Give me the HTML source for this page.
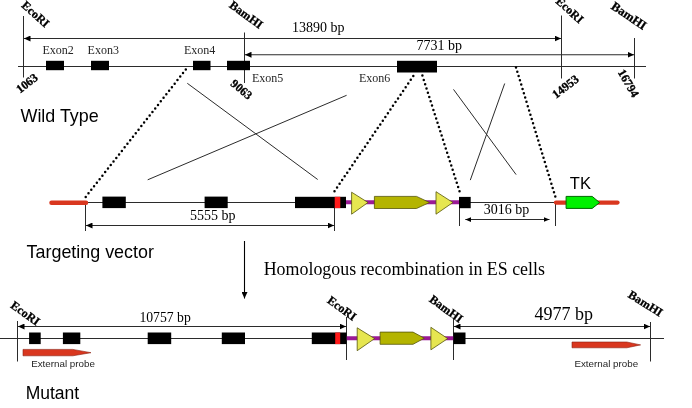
<!DOCTYPE html>
<html><head><meta charset="utf-8">
<style>
html,body{margin:0;padding:0;background:#fff;width:692px;height:408px;overflow:hidden}
svg{display:block;filter:blur(0.4px)}
.serif{font-family:"Liberation Serif",serif}
.sans{font-family:"Liberation Sans",sans-serif}
.lbl{font-family:"Liberation Serif",serif;font-weight:bold;fill:#000;stroke:#000;stroke-width:0.3px}
</style></head><body>
<svg width="692" height="408" viewBox="0 0 692 408">
<defs>
<marker id="ah" viewBox="0 0 10 10" refX="10" refY="5" markerWidth="6.5" markerHeight="6" markerUnits="userSpaceOnUse" preserveAspectRatio="none" orient="auto-start-reverse">
<path d="M0,0 L10,5 L0,10 z" fill="#000"/>
</marker>
<marker id="ahs" viewBox="0 0 10 10" refX="10" refY="5" markerWidth="6" markerHeight="5" markerUnits="userSpaceOnUse" preserveAspectRatio="none" orient="auto-start-reverse">
<path d="M0,0 L10,5 L0,10 z" fill="#000"/>
</marker>
</defs>
<rect width="692" height="408" fill="#fff"/>

<!-- ============ WILD TYPE ============ -->
<g stroke="#2b2b2b" stroke-width="1" fill="none">
<line x1="18" y1="66.5" x2="646" y2="66.5"/>
<line x1="23.5" y1="16" x2="23.5" y2="77.5"/>
<line x1="244.5" y1="32.5" x2="244.5" y2="83"/>
<line x1="561.5" y1="15.5" x2="561.5" y2="78.5"/>
<line x1="634.5" y1="38" x2="634.5" y2="78.5"/>
<line x1="24" y1="38.5" x2="561" y2="38.5" marker-start="url(#ah)" marker-end="url(#ah)"/>
<line x1="245" y1="54.75" x2="634" y2="54.75" marker-start="url(#ah)" marker-end="url(#ah)"/>
</g>
<g fill="#000">
<rect x="46" y="60.8" width="18" height="9.4"/>
<rect x="91" y="60.8" width="18" height="9.4"/>
<rect x="193" y="60.8" width="17.5" height="9.4"/>
<rect x="227" y="60.8" width="23" height="9.4"/>
<rect x="397" y="60.8" width="40" height="11.7"/>
</g>
<g class="serif" font-size="12" fill="#262626">
<text x="42.5" y="54">Exon2</text>
<text x="87.6" y="54">Exon3</text>
<text x="184" y="54">Exon4</text>
<text x="252" y="81.7">Exon5</text>
<text x="359" y="81.6">Exon6</text>
</g>
<g class="serif" font-size="14" fill="#000">
<text x="292" y="32">13890 bp</text>
<text x="416.4" y="49.5">7731 bp</text>
</g>
<g class="lbl" font-size="12">
<text transform="translate(20.8,6.3) rotate(42)">EcoRI</text>
<text transform="translate(228.5,6.8) rotate(36)">BamHI</text>
<text transform="translate(555,2.2) rotate(42)">EcoRI</text>
<text transform="translate(610.3,8.2) rotate(34)" font-size="12.5">BamHI</text>
<text transform="translate(19.9,93.8) rotate(-38)">1063</text>
<text transform="translate(229.8,84.8) rotate(40)">9063</text>
<text transform="translate(556,99) rotate(-38)">14953</text>
<text transform="translate(617.4,72.2) rotate(60)">16794</text>
</g>

<!-- crossing lines and dotted lines -->
<g stroke="#2b2b2b" stroke-width="1" fill="none">
<line x1="187.3" y1="83.3" x2="317.7" y2="179.5"/>
<line x1="147.7" y1="179.8" x2="346.6" y2="95.3"/>
<line x1="453.5" y1="89.4" x2="516.1" y2="174.6"/>
<line x1="504.7" y1="83.5" x2="470.3" y2="180.1"/>
</g>
<g stroke="#000" stroke-width="2.5" stroke-linecap="round" stroke-dasharray="0 4.5" fill="none">
<line x1="185.8" y1="69.5" x2="85.4" y2="197.3"/>
<line x1="413.3" y1="76.1" x2="334.2" y2="191.7"/>
<line x1="422.4" y1="75.6" x2="459.8" y2="192.2"/>
<line x1="516" y1="67.4" x2="555.4" y2="196.9"/>
</g>

<text x="20.5" y="121.7" class="sans" font-size="17.9" fill="#000">Wild Type</text>

<!-- ============ TARGETING VECTOR ============ -->
<g stroke="#2b2b2b" stroke-width="1" fill="none">
<line x1="87" y1="202.5" x2="296" y2="202.5"/>
<line x1="470" y1="202.5" x2="554" y2="202.5"/>
<line x1="85.5" y1="203" x2="85.5" y2="231"/>
<line x1="334.5" y1="208" x2="334.5" y2="231"/>
<line x1="459.5" y1="208" x2="459.5" y2="226"/>
<line x1="555.5" y1="203" x2="555.5" y2="226"/>
<line x1="86" y1="225.5" x2="334" y2="225.5" marker-start="url(#ah)" marker-end="url(#ah)"/>
<line x1="465.3" y1="219.5" x2="549.5" y2="219.5" marker-start="url(#ahs)" marker-end="url(#ahs)"/>
</g>
<line x1="51.5" y1="202.8" x2="86" y2="202.8" stroke="#d9371f" stroke-width="4.5" stroke-linecap="round"/>
<line x1="556" y1="202.6" x2="617.5" y2="202.6" stroke="#d9371f" stroke-width="4.3" stroke-linecap="round"/>
<line x1="346" y1="202.3" x2="459" y2="202.3" stroke="#9a1a96" stroke-width="4"/>
<g fill="#000">
<rect x="102.4" y="196.6" width="23.4" height="11.5"/>
<rect x="204.6" y="196.6" width="23.1" height="11.5"/>
<rect x="295" y="196.8" width="51" height="11.3"/>
<rect x="459" y="196.9" width="11.7" height="11.3"/>
</g>
<rect x="334.7" y="196.8" width="5.6" height="11.3" fill="#ff1a1a"/>
<path d="M351.6,192.2 L368,202.5 L351.6,214.2 Z" fill="#e6e650" stroke="#55550a" stroke-width="0.8"/>
<path d="M436,191.7 L452.9,202.5 L436,214.2 Z" fill="#e6e650" stroke="#55550a" stroke-width="0.8"/>
<path d="M374.4,196.4 L416.5,196.4 L429.5,202.5 L416.5,208.5 L374.4,208.5 Z" fill="#b4b400" stroke="#55550a" stroke-width="0.8"/>
<path d="M566.1,196.4 L592.2,196.4 L599.6,202.6 L592.2,208.4 L566.1,208.4 Z" fill="#00f000" stroke="#006600" stroke-width="1"/>
<g class="serif" font-size="14" fill="#000">
<text x="190" y="219.5">5555 bp</text>
<text x="483.8" y="214.2">3016 bp</text>
</g>
<text x="569.8" y="189.4" class="sans" font-size="16.5" fill="#000">TK</text>
<text x="26.6" y="257.6" class="sans" font-size="17.9" fill="#000">Targeting vector</text>

<!-- arrow down + homologous -->
<line x1="244.5" y1="241" x2="244.5" y2="298.5" stroke="#000" stroke-width="1.1" marker-end="url(#ah)"/>
<text x="263.7" y="275.2" class="serif" font-size="17.9" fill="#000">Homologous recombination in ES cells</text>

<!-- ============ MUTANT ============ -->
<g stroke="#2b2b2b" stroke-width="1" fill="none">
<line x1="0" y1="338.5" x2="312" y2="338.5"/>
<line x1="465" y1="338.5" x2="664" y2="338.5"/>
<line x1="17.5" y1="321" x2="17.5" y2="361.5"/>
<line x1="346.5" y1="317" x2="346.5" y2="360"/>
<line x1="453.5" y1="318.5" x2="453.5" y2="360"/>
<line x1="650.5" y1="322" x2="650.5" y2="361.5"/>
<line x1="18" y1="326.5" x2="346" y2="326.5" marker-start="url(#ah)" marker-end="url(#ah)"/>
<line x1="454" y1="326.5" x2="650" y2="326.5" marker-start="url(#ah)" marker-end="url(#ah)"/>
</g>
<line x1="346.5" y1="338.3" x2="453.4" y2="338.3" stroke="#9a1a96" stroke-width="4"/>
<g fill="#000">
<rect x="29.1" y="332.5" width="11.6" height="11.6"/>
<rect x="62.9" y="332.5" width="17.4" height="11.6"/>
<rect x="147.7" y="332.5" width="23.5" height="11.6"/>
<rect x="221.8" y="332.5" width="23.2" height="11.6"/>
<rect x="311.8" y="332.5" width="34.7" height="11.6"/>
<rect x="453.4" y="332.5" width="12.1" height="11.6"/>
</g>
<rect x="335.2" y="332.5" width="5" height="11.6" fill="#ff1a1a"/>
<path d="M357.2,327.8 L374.6,338.6 L357.2,350.7 Z" fill="#e6e650" stroke="#55550a" stroke-width="0.8"/>
<path d="M430.9,327.3 L447.7,338.6 L430.9,349.8 Z" fill="#e6e650" stroke="#55550a" stroke-width="0.8"/>
<path d="M380.1,332.1 L413,332.1 L424.3,338.2 L413,344.3 L380.1,344.3 Z" fill="#b4b400" stroke="#55550a" stroke-width="0.8"/>
<path d="M23,349.4 L72.8,349.4 L91,352.7 L72.8,355.8 L23,355.8 Z" fill="#d9371f" stroke="#8a2010" stroke-width="0.6"/>
<path d="M572,342 L626.8,342 L640.6,344.9 L626.8,347.8 L572,347.8 Z" fill="#d9371f" stroke="#8a2010" stroke-width="0.6"/>
<text x="139.4" y="321.7" class="serif" font-size="13.7" fill="#000">10757 bp</text>
<text x="534.6" y="319.5" class="serif" font-size="18" fill="#000">4977 bp</text>
<g class="sans" font-size="9.8" fill="#262626">
<text x="31.2" y="366.6">External probe</text>
<text x="574.4" y="367">External probe</text>
</g>
<g class="lbl" font-size="12">
<text transform="translate(9.8,306.9) rotate(36)">EcoRI</text>
<text transform="translate(326.4,302) rotate(36)">EcoRI</text>
<text transform="translate(428.5,300.9) rotate(36)">BamHI</text>
<text transform="translate(627.3,296.8) rotate(32)">BamHI</text>
</g>
<text x="25.7" y="398.7" class="sans" font-size="17.5" fill="#000">Mutant</text>
</svg>
</body></html>
